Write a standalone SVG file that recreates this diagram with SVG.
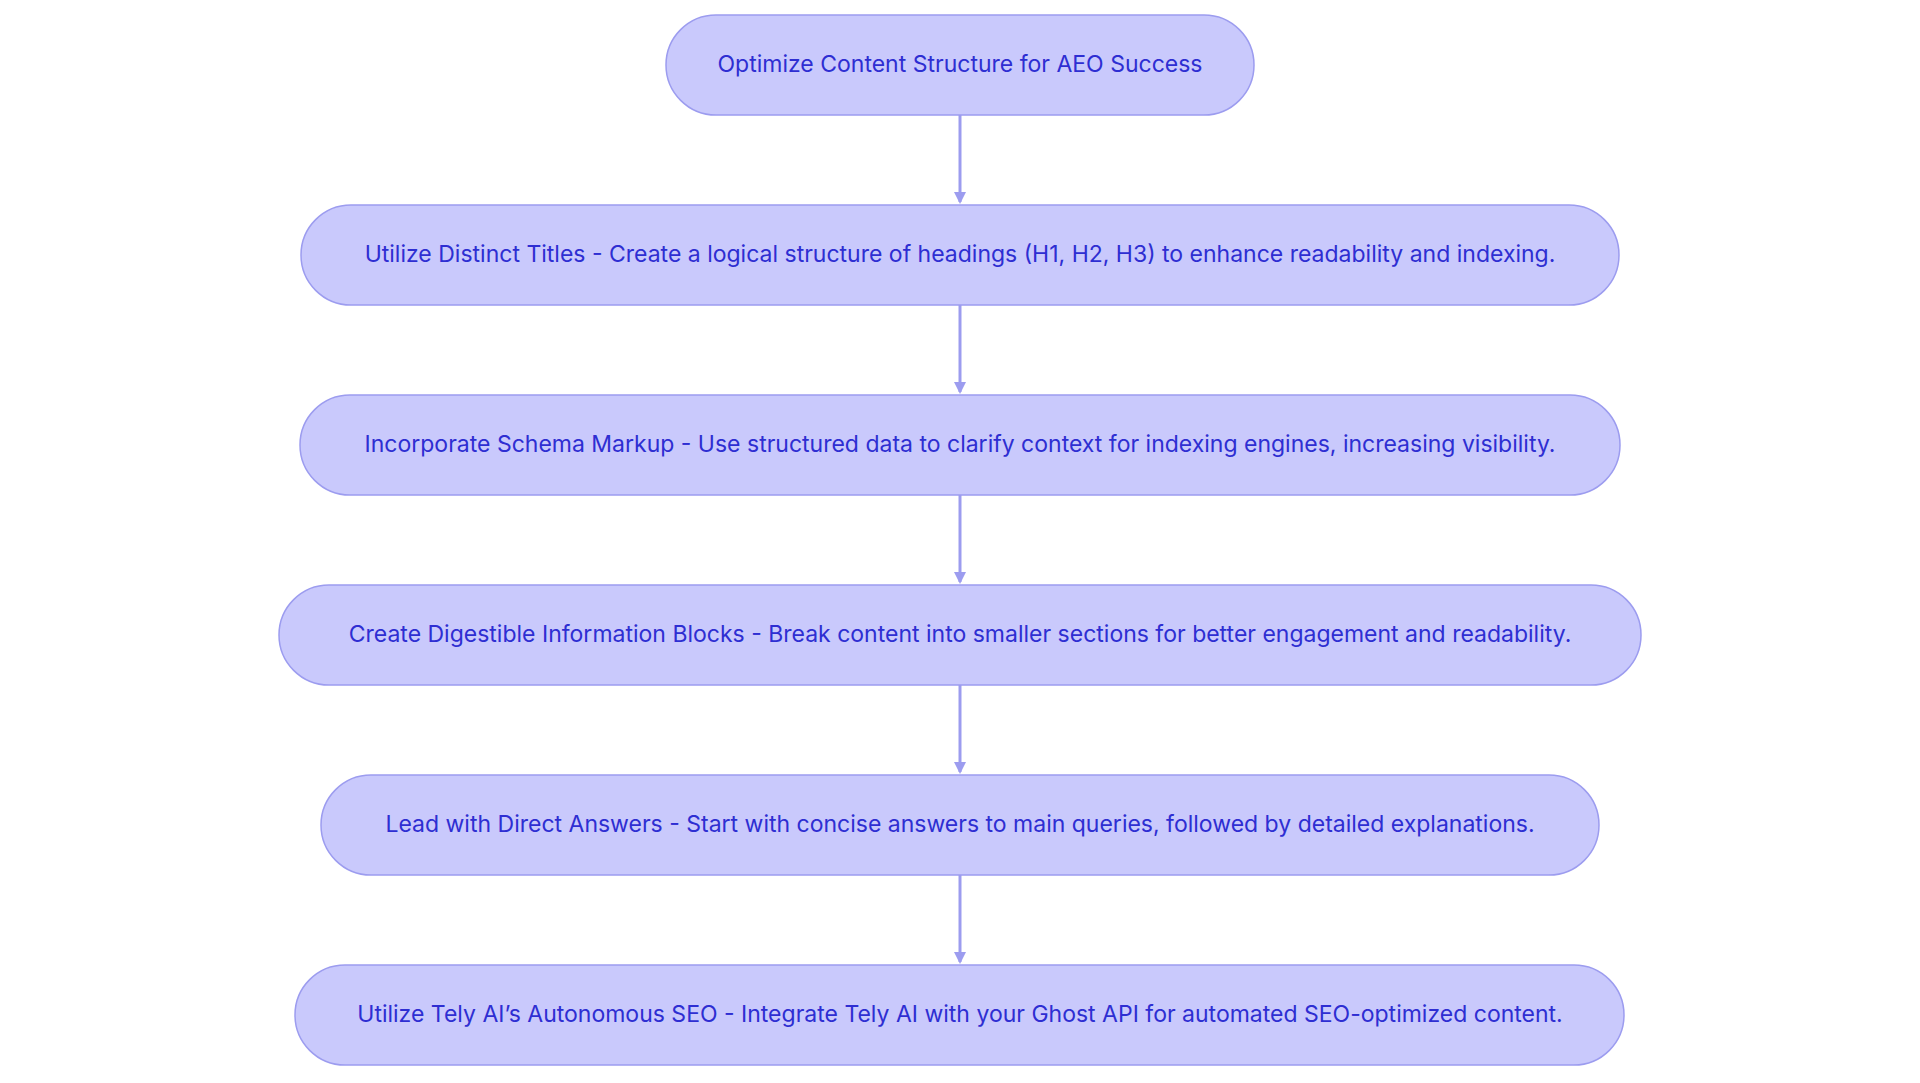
<svg xmlns="http://www.w3.org/2000/svg" width="1920" height="1083" viewBox="0 0 1920 1083">
<style>
.n rect{fill:#c9c9fc;stroke:#9c9cef;stroke-width:1.5}
.n text{font-family:Inter,"Noto Sans",sans-serif;font-size:23px;fill:#2e2ed2;text-anchor:middle;dominant-baseline:central}
.e{stroke:#9c9cef;stroke-width:3;fill:none;marker-end:url(#a)}
</style>
<defs><marker id="a" markerWidth="12" markerHeight="12" refX="10" refY="6" orient="auto" markerUnits="userSpaceOnUse"><path d="M0,0 L12,6 L0,12 z" fill="#9c9cef"/></marker></defs>
<rect width="1920" height="1083" fill="#fff"/>
<g id="edges">
<path class="e" d="M960,115 V202"/>
<path class="e" d="M960,305 V392"/>
<path class="e" d="M960,495 V582"/>
<path class="e" d="M960,685 V772"/>
<path class="e" d="M960,875 V962"/>
</g>
<g id="n1" class="n"><rect x="666" y="15" width="588" height="100" rx="50"/><text x="960" y="64">Optimize Content Structure for AEO Success</text></g>
<g id="n2" class="n"><rect x="301" y="205" width="1318" height="100" rx="50"/><text x="960" y="254">Utilize Distinct Titles - Create a logical structure of headings (H1, H2, H3) to enhance readability and indexing.</text></g>
<g id="n3" class="n"><rect x="300" y="395" width="1320" height="100" rx="50"/><text x="960" y="444">Incorporate Schema Markup - Use structured data to clarify context for indexing engines, increasing visibility.</text></g>
<g id="n4" class="n"><rect x="279" y="585" width="1362" height="100" rx="50"/><text x="960" y="634">Create Digestible Information Blocks - Break content into smaller sections for better engagement and readability.</text></g>
<g id="n5" class="n"><rect x="321" y="775" width="1278" height="100" rx="50"/><text x="960" y="824">Lead with Direct Answers - Start with concise answers to main queries, followed by detailed explanations.</text></g>
<g id="n6" class="n"><rect x="295" y="965" width="1329" height="100" rx="50"/><text x="960" y="1014">Utilize Tely AI’s Autonomous SEO - Integrate Tely AI with your Ghost API for automated SEO-optimized content.</text></g>
</svg>
